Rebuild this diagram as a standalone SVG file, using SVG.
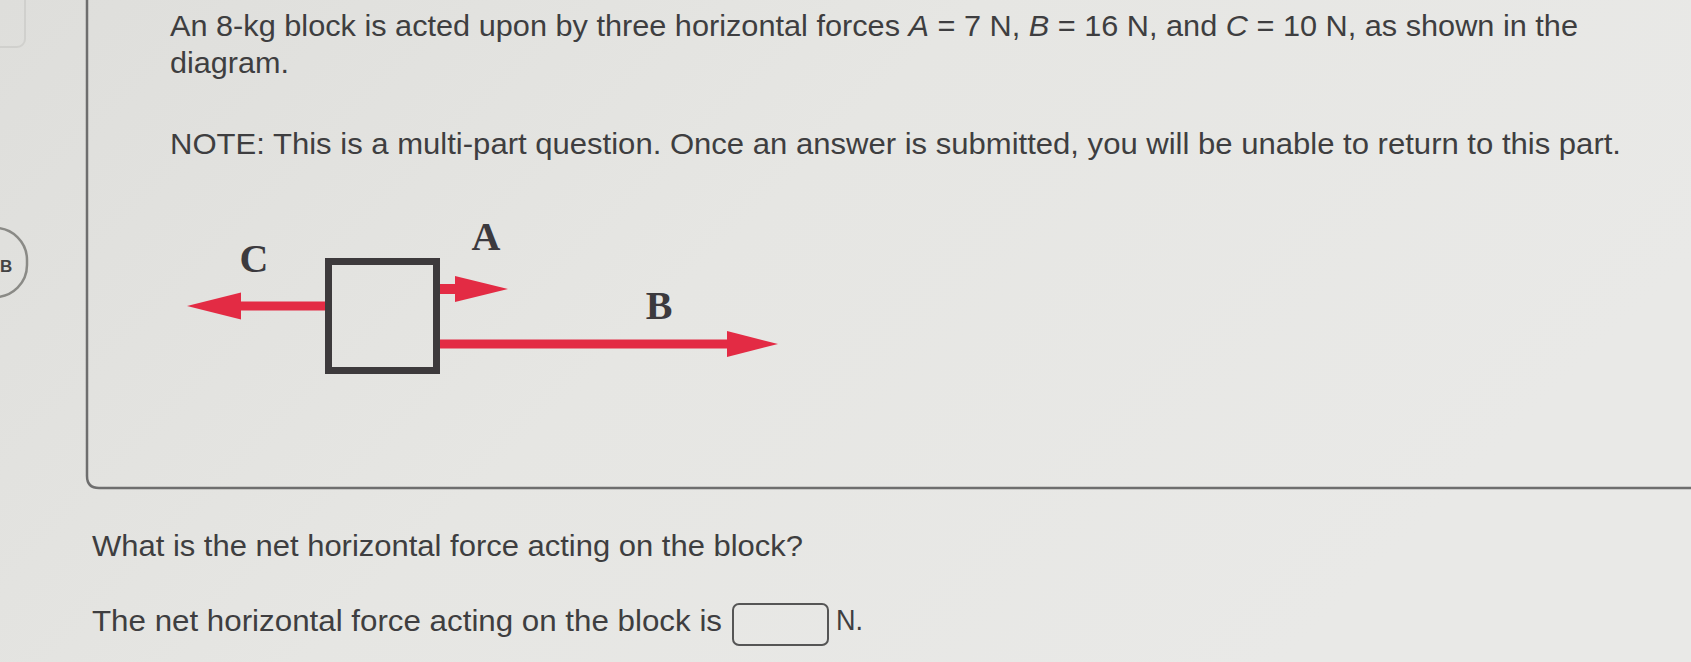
<svg xmlns="http://www.w3.org/2000/svg" width="1691" height="662" viewBox="0 0 1691 662">
<defs>
<linearGradient id="bg" x1="0" y1="0" x2="1" y2="0.4">
<stop offset="0" stop-color="#dededb"/>
<stop offset="0.5" stop-color="#e6e6e3"/>
<stop offset="1" stop-color="#e9e9e7"/>
</linearGradient>
<style>
.t{font-family:"Liberation Sans",Arial,sans-serif;font-size:30px;fill:#3e3e40}
.lab{font-family:"Liberation Serif","Times New Roman",serif;font-weight:bold;font-size:40px;fill:#3c3a3e;text-anchor:middle}
.frame{fill:none;stroke:#6e6e6e;stroke-width:2.5}
.force{fill:#e32b44;stroke:none}
.blk{fill:none;stroke:#3d3a3c;stroke-width:7}
</style>
</defs>
<rect width="1691" height="662" fill="url(#bg)"/>
<g id="chrome">
<rect x="-20" y="-10" width="45" height="57" rx="8" fill="none" stroke="#d0d0cd" stroke-width="2"/>
<rect x="-40" y="228" width="67" height="69" rx="32" fill="none" stroke="#8a8a86" stroke-width="2.5"/>
<text x="0" y="272" style="font-family:'Liberation Sans',sans-serif;font-weight:bold;font-size:17px;fill:#444">B</text>
<path class="frame" d="M87,0 V476 Q87,488 99,488 H1691"/>
</g>
<g id="question-text">
<text class="t" x="170" y="36" textLength="1408" lengthAdjust="spacingAndGlyphs">An 8-kg block is acted upon by three horizontal forces <tspan font-style="italic">A</tspan> = 7 N, <tspan font-style="italic">B</tspan> = 16 N, and <tspan font-style="italic">C</tspan> = 10 N, as shown in the</text>
<text class="t" x="170" y="73" textLength="119" lengthAdjust="spacingAndGlyphs">diagram.</text>
<text class="t" x="170" y="154" textLength="1451" lengthAdjust="spacingAndGlyphs">NOTE: This is a multi-part question. Once an answer is submitted, you will be unable to return to this part.</text>
</g>
<g id="block">
<rect class="blk" x="328.5" y="261.5" width="108" height="109"/>
</g>
<g id="connectors">
<g id="force-C">
<rect class="force" x="238" y="301.5" width="87" height="9"/>
<polygon class="force" points="187,306 241,292.5 241,319.5"/>
</g>
<g id="force-A">
<rect class="force" x="440" y="284" width="18" height="10"/>
<polygon class="force" points="508,289 455,276 455,302"/>
</g>
<g id="force-B">
<rect class="force" x="440" y="339.5" width="290" height="9"/>
<polygon class="force" points="778,344 727,331 727,357"/>
</g>
</g>
<g id="labels">
<text class="lab" x="254" y="272">C</text>
<text class="lab" x="486" y="250">A</text>
<text class="lab" x="659" y="319">B</text>
</g>
<g id="answer">
<text class="t" x="92" y="556" textLength="711" lengthAdjust="spacingAndGlyphs">What is the net horizontal force acting on the block?</text>
<text class="t" x="92" y="631" textLength="630" lengthAdjust="spacingAndGlyphs">The net horizontal force acting on the block is</text>
<rect x="733" y="604" width="95" height="41" rx="6" fill="none" stroke="#555" stroke-width="2"/>
<text class="t" x="836" y="630" textLength="27" lengthAdjust="spacingAndGlyphs">N.</text>
</g>
</svg>
